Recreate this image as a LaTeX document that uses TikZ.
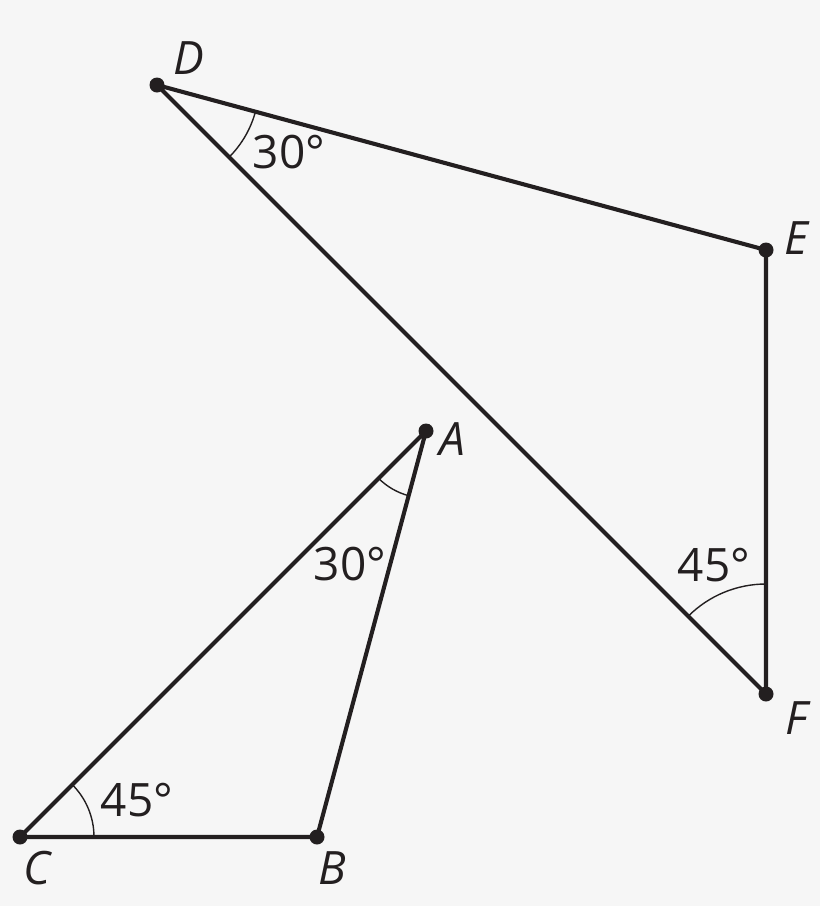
\documentclass[tikz,border=0pt]{standalone}
\usepackage{fontspec}
\setmainfont{Open Sans}
\usetikzlibrary{angles}
\definecolor{bg}{HTML}{F6F6F6}
\definecolor{ink}{HTML}{231F20}
\tikzset{
  side/.style={draw=ink,line width=4.1pt},
  vdot/.style={circle,fill=ink,inner sep=0pt,minimum size=15pt},
  ptlabel/.style={font=\fontsize{46}{55}\selectfont\itshape,text=ink,inner sep=0pt},
  anglabel/.style={font=\fontsize{46}{55}\selectfont,text=ink,inner sep=0pt},
  arcmark/.style={draw=ink,line width=1.4pt}
}
\begin{document}
\begin{tikzpicture}[x=1pt,y=-1pt]
\path[fill=bg] (0,0) rectangle (820,906);
\useasboundingbox (0,0) rectangle (820,906);
% vertices
\coordinate (D) at (157,85);
\coordinate (E) at (766,250);
\coordinate (F) at (766,694);
\coordinate (A) at (426,431);
\coordinate (C) at (20,837);
\coordinate (B) at (317,837);
% sides
\draw[side,line join=miter] (D) -- (E) -- (F) -- cycle;
\draw[side] (C) -- (A) -- (B) -- cycle;
% angle marks
\pic[arcmark,angle radius=102pt] {angle=F--D--E};
\pic[arcmark,angle radius=110pt] {angle=E--F--D};
\pic[arcmark,angle radius=67pt] {angle=C--A--B};
\pic[arcmark,angle radius=74pt] {angle=B--C--A};
% dots
\foreach \p in {D,E,F,A,C,B} \node[vdot] (dot\p) at (\p) {};
% labels
\node[ptlabel] (lD) at (189,58) {D};
\node[ptlabel] (lE) at (796,238) {E};
\node[ptlabel] (lF) at (796,718) {F};
\node[ptlabel] (lA) at (452,439) {A};
\node[ptlabel] (lC) at (37,868) {C};
\node[ptlabel] (lB) at (332,868) {B};
\node[anglabel] (aD) at (289,152) {30°};
\node[anglabel] (aF) at (714,565) {45°};
\node[anglabel] (aA) at (350,564) {30°};
\node[anglabel] (aC) at (137,800) {45°};
\end{tikzpicture}
\end{document}
